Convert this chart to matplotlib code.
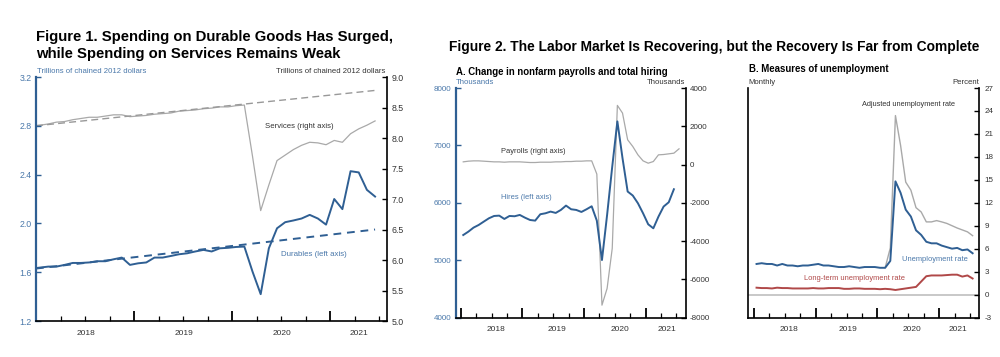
import numpy as np
import matplotlib.pyplot as plt
import matplotlib.transforms as mtransforms

plt.rcParams['font.family'] = ['Liberation Sans', 'DejaVu Sans']
plt.rcParams['axes.unicode_minus'] = False

# ---------------- data ----------------
# Figure 1: monthly, Dec 2017 .. Jun 2021 (trillions of chained 2012 dollars)
durables = [1.63,
            1.638, 1.646, 1.646, 1.66, 1.676, 1.676, 1.68, 1.69, 1.69, 1.706, 1.72, 1.66,
            1.673, 1.68, 1.72, 1.72, 1.733, 1.747, 1.755, 1.77, 1.783, 1.77, 1.796, 1.80,
            1.807, 1.81, 1.605, 1.42, 1.796, 1.96, 2.01, 2.024, 2.04, 2.07, 2.04, 1.99,
            2.20, 2.117, 2.428, 2.418, 2.275, 2.22]
services = [8.20,
            8.21, 8.23, 8.26, 8.27, 8.30, 8.32, 8.34, 8.34, 8.36, 8.38, 8.38, 8.35,
            8.36, 8.37, 8.39, 8.40, 8.41, 8.44, 8.45, 8.46, 8.48, 8.49, 8.51, 8.51,
            8.53, 8.54, 7.70, 6.81, 7.23, 7.63, 7.72, 7.81, 7.88, 7.93, 7.92, 7.89,
            7.96, 7.93, 8.07, 8.15, 8.21, 8.28]
trend_months = [0, 41.5]
durables_trend = [1.63, 1.95]
services_trend = [8.20, 8.78]

# Figure 2A: thousands, Jan 2018 ..
hires = [5438, 5497, 5567, 5613, 5672, 5730, 5770, 5776, 5718, 5770, 5765, 5788,
         5741, 5700, 5689, 5800, 5817, 5846, 5823, 5875, 5951, 5887, 5875, 5840,
         5887, 5939, 5689, 5002, 5788, 6630, 7419, 6778, 6196, 6126, 5992, 5817,
         5625, 5555, 5759, 5934, 6009, 6236]
payrolls = [140, 175, 192, 192, 175, 157, 140, 140, 122, 140, 140, 140,
            122, 105, 105, 122, 122, 122, 140, 140, 157, 157, 175, 175,
            192, 192, -500, -7354, -6480, -4384, 3092, 2690, 1293, 943, 507, 192,
            70, 157, 507, 524, 559, 594, 821]

# Figure 2B: percent, Jan 2018 .. Jul 2021
unemp = [4.0, 4.1, 4.0, 4.0, 3.8, 4.0, 3.8, 3.8, 3.7, 3.8, 3.8, 3.9,
         4.0, 3.8, 3.8, 3.7, 3.6, 3.6, 3.7, 3.6, 3.5, 3.6, 3.6, 3.6,
         3.5, 3.5, 4.4, 14.8, 13.3, 11.1, 10.2, 8.4, 7.8, 6.9, 6.7, 6.7,
         6.4, 6.2, 6.0, 6.1, 5.8, 5.9, 5.4]
adj_start = 25  # Feb 2020; before that it sits under the unemployment rate
adj_unemp = [3.5, 6.1, 23.4, 19.5, 14.7, 13.65, 11.36, 10.8, 9.5, 9.5, 9.67,
             9.5, 9.3, 9.0, 8.7, 8.45, 8.2, 7.7]
longterm = [0.9, 0.85, 0.85, 0.8, 0.9, 0.85, 0.85, 0.8, 0.8, 0.8, 0.8, 0.85,
            0.8, 0.8, 0.85, 0.85, 0.85, 0.75, 0.75, 0.8, 0.8, 0.75, 0.75, 0.75,
            0.7, 0.75, 0.7, 0.6, 0.7, 0.8, 0.9, 1.0, 1.7, 2.4, 2.5, 2.5,
            2.5, 2.55, 2.6, 2.6, 2.35, 2.5, 2.1]

years = ['2018', '2019', '2020', '2021']

BLUE = '#2f5f93'
LBLUE = '#4a78aa'
GRAY = '#a9a9a9'
DGRAY = '#999999'
RED = '#b04848'
TXT = '#333333'


def style_x(ax, xlim, label_pos):
    ax.set_xlim(*xlim)
    ax.set_xticks([0, 12, 24, 36])
    ax.set_xticks(np.arange(3, 43, 3), minor=True)
    ax.tick_params(axis='x', which='major', direction='in', length=7, width=1.3,
                   labelbottom=False)
    ax.tick_params(axis='x', which='minor', direction='in', length=3.5, width=0.9)
    tr = mtransforms.blended_transform_factory(ax.transData, ax.transAxes)
    for yr, p in zip(years, label_pos):
        ax.text(p, -0.035, yr, transform=tr, ha='center', va='top', fontsize=6,
                color=TXT)
    ax.spines['top'].set_visible(False)
    ax.spines['bottom'].set_linewidth(1.2)


fig = plt.figure(figsize=(10, 3.57), dpi=100)

# ---------------- Figure 1 ----------------
ax1 = fig.add_axes([0.036, 0.1008, 0.351, 0.6835])
ax1r = ax1.twinx()
ax1.set_zorder(ax1r.get_zorder() + 1)
ax1.patch.set_visible(False)

m1 = np.arange(-1, len(durables) - 1) + 0.5
ax1r.plot(m1, services, color=GRAY, lw=0.9)
ax1r.plot(trend_months, services_trend, color=DGRAY, lw=1.0, ls=(0, (5, 3)))
ax1.plot(m1, durables, color=BLUE, lw=1.4)
ax1.plot(trend_months, durables_trend, color=BLUE, lw=1.4, ls=(0, (4, 3)))

ax1.set_ylim(1.2, 3.2)
ax1.set_yticks(np.arange(1.2, 3.21, 0.4))
ax1.set_yticklabels([f'{v:.1f}' for v in np.arange(1.2, 3.21, 0.4)])
ax1r.set_ylim(5.0, 9.0)
ax1r.set_yticks(np.arange(5.0, 9.01, 0.5))
ax1r.set_yticklabels([f'{v:.1f}' for v in np.arange(5.0, 9.01, 0.5)])
ax1.tick_params(axis='y', direction='in', length=3.5, width=1, labelsize=6.3,
                labelcolor=LBLUE, color=BLUE, pad=3)
ax1r.tick_params(axis='y', direction='in', length=3.5, width=1, labelsize=6.3,
                 labelcolor=TXT, pad=3.5)
style_x(ax1, (0, 42.96), [6.1, 18.1, 30.1, 39.5])
for a in (ax1, ax1r):
    a.spines['top'].set_visible(False)
ax1.spines['left'].set_color(BLUE)
ax1.spines['left'].set_linewidth(1.6)
ax1r.spines['left'].set_visible(False)
ax1r.spines['right'].set_linewidth(1.2)
ax1.spines['right'].set_visible(False)
ax1r.spines['bottom'].set_visible(False)

fig.text(0.036, 0.917, 'Figure 1. Spending on Durable Goods Has Surged,\nwhile Spending on Services Remains Weak',
         fontsize=10.7, fontweight='bold', ha='left', va='top', linespacing=1.3)
fig.text(0.037, 0.8, 'Trillions of chained 2012 dollars', fontsize=5.6, color=LBLUE,
         ha='left', va='center')
fig.text(0.385, 0.8, 'Trillions of chained 2012 dollars', fontsize=5.6, color=TXT,
         ha='right', va='center')
fig.text(0.299, 1 - 126 / 357, 'Services (right axis)', fontsize=5.6, color=TXT,
         ha='center', va='center')
fig.text(0.314, 1 - 254 / 357, 'Durables (left axis)', fontsize=5.7, color=LBLUE,
         ha='center', va='center')

# ---------------- Figure 2 title ----------------
fig.text(0.449, 1 - 46.5 / 357,
         'Figure 2. The Labor Market Is Recovering, but the Recovery Is Far from Complete',
         fontsize=9.95, fontweight='bold', ha='left', va='center')

# ---------------- Panel A ----------------
axA = fig.add_axes([0.4557, 0.1106, 0.230, 0.6428])
axAr = axA.twinx()
axA.set_zorder(axAr.get_zorder() + 1)
axA.patch.set_visible(False)

axAr.plot(np.arange(len(payrolls)) + 0.5, payrolls, color=GRAY, lw=0.9)
axA.plot(np.arange(len(hires)) + 0.5, hires, color=BLUE, lw=1.4)

axA.set_ylim(4000, 8000)
axA.set_yticks(np.arange(4000, 8001, 1000))
axAr.set_ylim(-8000, 4000)
axAr.set_yticks(np.arange(-8000, 4001, 2000))
axA.tick_params(axis='y', direction='in', length=3.5, width=1, labelsize=5.8,
                labelcolor=LBLUE, color=BLUE, pad=3)
axAr.tick_params(axis='y', direction='in', length=3.5, width=1, labelsize=5.8,
                 labelcolor=TXT, pad=3)
style_x(axA, (-0.97, 43.8), [6.9, 18.8, 31.0, 40.1])
for a in (axA, axAr):
    a.spines['top'].set_visible(False)
axA.spines['left'].set_color(BLUE)
axA.spines['left'].set_linewidth(1.6)
axAr.spines['left'].set_visible(False)
axAr.spines['right'].set_linewidth(1.2)
axA.spines['right'].set_visible(False)
axAr.spines['bottom'].set_visible(False)

fig.text(0.456, 1 - 71.7 / 357, 'A. Change in nonfarm payrolls and total hiring',
         fontsize=6.9, fontweight='bold', ha='left', va='center')
fig.text(0.456, 1 - 82.7 / 357, 'Thousands', fontsize=5.6, color=LBLUE,
         ha='left', va='center')
fig.text(0.6857, 1 - 82.7 / 357, 'Thousands', fontsize=5.6, color=TXT,
         ha='right', va='center')
fig.text(0.533, 1 - 151.7 / 357, 'Payrolls (right axis)', fontsize=5.4, color=TXT,
         ha='center', va='center')
fig.text(0.526, 1 - 197.7 / 357, 'Hires (left axis)', fontsize=5.4, color=LBLUE,
         ha='center', va='center')

# ---------------- Panel B ----------------
axB = fig.add_axes([0.7483, 0.1106, 0.231, 0.6428])
mB = np.arange(len(unemp)) + 0.5
axB.axhline(0, color='#c8c8c8', lw=1.4, zorder=1)
axB.plot(mB[adj_start:adj_start + len(adj_unemp)], adj_unemp, color=GRAY, lw=1.0)
axB.plot(mB, longterm, color=RED, lw=1.4)
axB.plot(mB, unemp, color=BLUE, lw=1.4)

axB.set_ylim(-3, 27)
axB.set_yticks(np.arange(-3, 28, 3))
axB.yaxis.tick_right()
axB.tick_params(axis='y', direction='in', length=3.5, width=1, labelsize=5.8,
                labelcolor=TXT, pad=4)
style_x(axB, (-1.1, 43.8), [6.9, 18.3, 30.7, 39.7])
axB.spines['left'].set_linewidth(1.2)
axB.spines['right'].set_linewidth(1.2)

fig.text(0.749, 1 - 69.3 / 357, 'B. Measures of unemployment',
         fontsize=6.9, fontweight='bold', ha='left', va='center')
fig.text(0.748, 1 - 83 / 357, 'Monthly', fontsize=5.6, color=TXT,
         ha='left', va='center')
fig.text(0.979, 1 - 83 / 357, 'Percent', fontsize=5.6, color=TXT,
         ha='right', va='center')
fig.text(0.908, 1 - 104 / 357, 'Adjusted unemployment rate', fontsize=5.3, color=TXT,
         ha='center', va='center')
fig.text(0.935, 1 - 259.3 / 357, 'Unemployment rate', fontsize=5.4, color=LBLUE,
         ha='center', va='center')
fig.text(0.855, 1 - 279 / 357, 'Long-term unemployment rate', fontsize=5.4, color=RED,
         ha='center', va='center')

fig.savefig('out.png', dpi=100)
